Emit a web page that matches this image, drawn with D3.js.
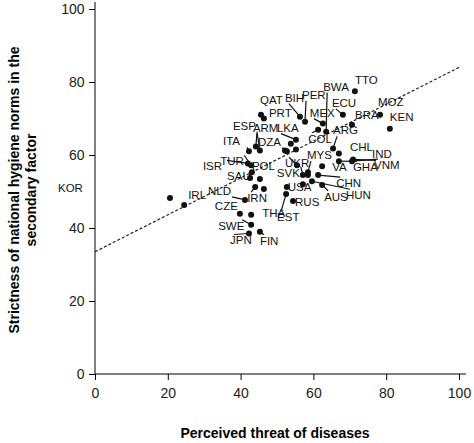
<!DOCTYPE html>
<html><head><meta charset="utf-8">
<script src="https://cdn.jsdelivr.net/npm/d3@7"></script>
<style>body{margin:0;background:#fff}text{font-family:"Liberation Sans",Arial,sans-serif}</style>
</head><body><div id="vis"></div>
<script>
const codes = ["KOR","IRL","NLD","IRN","CZE","THA","SWE","JPN","FIN","EST","RUS","USA","SVK","UKR","MYS","POL","TUR","ISR","SAU","ITA","ESP","ARM","LKA","DZA","QAT","PRT","BIH","PER","BWA","MEX","ECU","TTO","BRA","MOZ","KEN","ARG","COL","CHL","IND","VNM","GHA","VA","CHN","AUS","HUN","","","","","","",""];
const threat = [20.6,24.5,41.2,44.0,39.8,42.9,42.9,42.3,45.3,52.5,54.4,52.7,57.1,55.5,58.5,43.1,42.9,42.0,42.6,42.3,45.3,44.2,55.2,52.2,45.6,46.4,56.3,57.7,63.5,62.6,68.1,71.4,70.6,78.3,81.0,65.4,61.3,67.0,70.9,70.6,67.0,62.4,61.3,62.4,59.6,46.4,45.3,55.2,52.7,57.1,53.8,58.5];
const strictness = [48.2,46.3,47.7,51.2,43.9,43.6,40.9,38.5,39.0,49.3,47.4,51.2,54.5,57.2,55.3,55.3,57.2,57.7,53.7,61.0,61.2,62.3,64.2,61.2,71.0,70.0,70.5,69.1,66.4,68.6,71.0,77.5,68.3,71.0,67.2,61.8,66.9,60.4,58.8,58.3,58.3,56.9,54.5,51.8,52.8,50.7,53.4,61.5,61.0,52.0,63.1,54.5];
// label offsets in px from the point (start x, baseline y)
const labelOffsets = [[-112,-6],[4,-6],[-37,-5],[-8,15],[-25,-4],[11,2],[-33,5],[-19,11],[0,13],[-9,27],[2,5],[1,4],[-26,2],[-12,2],[-1,-13],[0,-2],[-31,0],[-45,7],[-23,2],[-26,-6],[-27,-21],[-3,-15],[-19,-8],[-27,-5],[-1,-11],[5,-2],[-15,-15],[-3,-23],[-3,-41],[-13,-7],[-11,-8],[0,-7],[3,-6],[-2,-9],[0,-8],[0,-14],[-10,13],[11,-3],[19,-1],[22,8],[14,10],[10,5],[18,12],[2,16],[34,18]];
const ticks = [0,20,40,60,80,100];
const fit = {intercept: 33.5, slope: 0.505};

const svg = d3.select("#vis").append("svg").attr("width",474).attr("height",443);
const x = d3.scaleLinear().domain([0,100]).range([95,459]);
const y = d3.scaleLinear().domain([0,100]).range([374,9]);

svg.append("g").attr("transform","translate(0,374)")
  .call(d3.axisBottom(x).tickValues(ticks).tickSize(6).tickSizeOuter(0))
  .call(g=>g.select(".domain").attr("d","M95,0H466"))
  .selectAll("text").attr("font-size",14).attr("dy","1.1em");
svg.append("g").attr("transform","translate(95,0)")
  .call(d3.axisLeft(y).tickValues(ticks).tickSize(6).tickSizeOuter(0))
  .call(g=>g.select(".domain").attr("d","M0,374V2"))
  .selectAll("text").attr("font-size",14).attr("dx","-0.1em");
svg.selectAll(".tick text").attr("font-family","Liberation Sans, Arial, sans-serif").attr("fill","#222");

svg.append("line")
  .attr("x1",x(0)).attr("y1",y(fit.intercept))
  .attr("x2",x(100)).attr("y2",y(fit.intercept+fit.slope*100))
  .attr("stroke","#222").attr("stroke-width",1.2).attr("stroke-dasharray","3,2");

const pts = threat.map((t,i)=>({code:codes[i],t,s:strictness[i],off:labelOffsets[i]}));
const lab = pts.filter(d=>d.code);

svg.append("g").selectAll("line")
  .data(lab.filter(d=>d.code!=="KOR" && Math.hypot(d.off[0],d.off[1])>12)).join("line")
  .attr("x1",d=>x(d.t)).attr("y1",d=>y(d.s))
  .attr("x2",d=>x(d.t)+d.off[0]+(d.off[0]<-20?24:4)).attr("y2",d=>y(d.s)+d.off[1]+(d.off[1]<0?2:-10))
  .attr("stroke","#111").attr("stroke-width",1.2);

svg.append("g").selectAll("circle").data(pts).join("circle")
  .attr("cx",d=>x(d.t)).attr("cy",d=>y(d.s)).attr("r",3).attr("fill","#111");

svg.append("g").selectAll("text").data(lab).join("text")
  .attr("x",d=>x(d.t)+d.off[0]).attr("y",d=>y(d.s)+d.off[1])
  .attr("font-size",11.5).attr("fill","#111").text(d=>d.code);

svg.append("text").attr("x",275).attr("y",438).attr("text-anchor","middle")
  .attr("font-size",14).attr("font-weight","bold").text("Perceived threat of diseases");
const yt = svg.append("text").attr("transform","translate(0,190) rotate(-90)")
  .attr("text-anchor","middle").attr("font-size",14).attr("font-weight","bold");
yt.append("tspan").attr("x",0).attr("y",19).text("Strictness of national hygiene norms in the");
yt.append("tspan").attr("x",0).attr("y",36).text("secondary factor");
</script></body></html>
